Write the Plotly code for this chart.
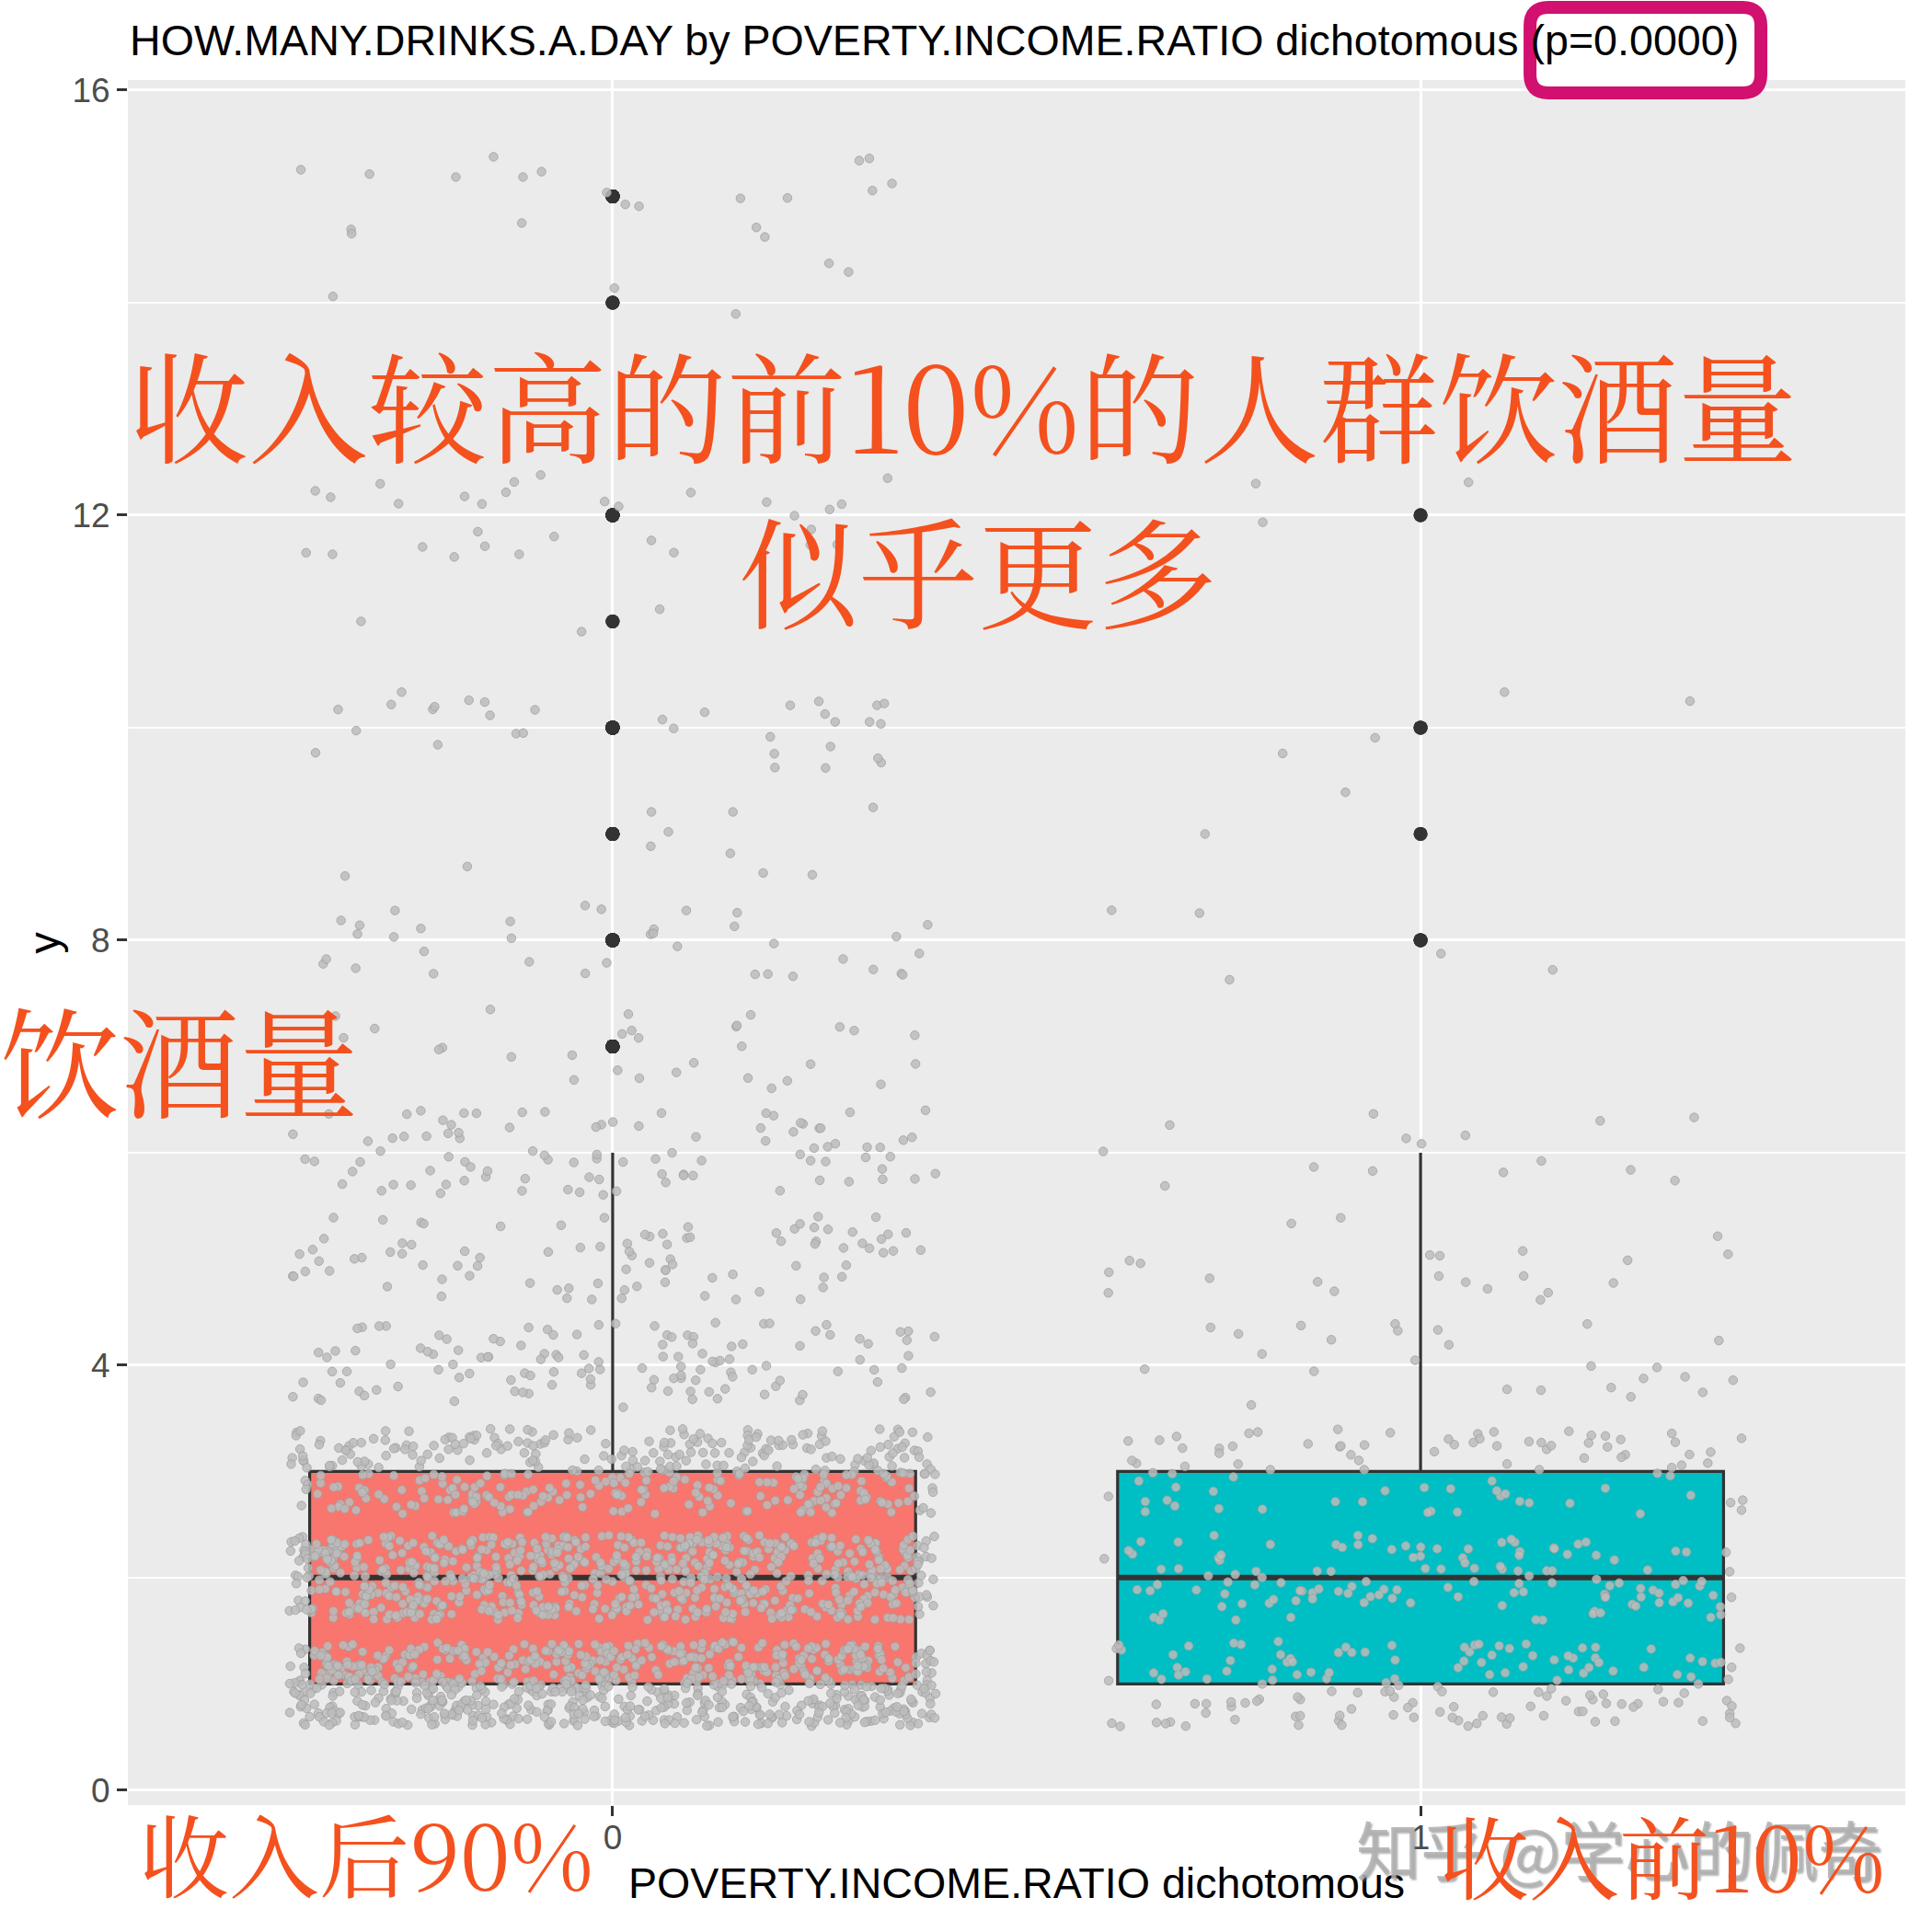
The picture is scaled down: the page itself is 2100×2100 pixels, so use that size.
import numpy as np
import plotly.graph_objects as go

# ---------------- data ----------------
groups = [0, 1]
group_labels = ["0", "1"]
drink_levels = [1, 2, 3, 4, 5, 6, 7, 8, 9, 10, 11, 12, 13, 14, 15]
counts_bottom90 = [800, 720, 400, 125, 90, 95, 30, 36, 10, 32, 3, 30, 0, 5, 20]
counts_top10 = [150, 130, 90, 25, 22, 15, 0, 5, 2, 4, 0, 3, 0, 0, 0]
box_colors = ["#F8766D", "#00BFC4"]
y_ticks = [0, 4, 8, 12, 16]

title_text = "HOW.MANY.DRINKS.A.DAY by POVERTY.INCOME.RATIO dichotomous (p=0.0000)"
x_title = "POVERTY.INCOME.RATIO dichotomous"
y_title = "y"

# ---------------- geometry helpers ----------------
W = H = 2100
L, R, T, B = 138.6, 2071.0, 87.0, 1962.0


def pxx(px):
    return (px - L) / (R - L)


def pxy(py):
    return (B - py) / (B - T)


def hash01(k, a, b):
    # deterministic scatter used only for the visual jitter offsets
    return np.mod(np.sin(k * a + b) * 43758.5453, 1.0)


fig = go.Figure()

series = [counts_bottom90, counts_top10]

# boxes (ggplot-like: no whisker caps, dark outliers)
for g, counts, color in zip(groups, series, box_colors):
    vals = np.repeat(drink_levels, counts)
    fig.add_trace(go.Box(
        x=np.full(len(vals), g), y=vals, orientation="v",
        width=0.75, fillcolor=color,
        line=dict(color="#333333", width=3.2), whiskerwidth=0,
        boxpoints="outliers", jitter=0, pointpos=0,
        marker=dict(color="#333333", size=15),
        hoverinfo="skip", showlegend=False,
    ))

# thicker median line (ggplot fatten)
for g, counts in zip(groups, series):
    vals = np.repeat(drink_levels, counts)
    med = float(np.median(vals))
    fig.add_trace(go.Scatter(
        x=[g - 0.375, g + 0.375], y=[med, med], mode="lines",
        line=dict(color="#333333", width=6),
        hoverinfo="skip", showlegend=False,
    ))

# jittered raw observations (geom_jitter style, +/-0.4 in both directions)
jx, jy = [], []
for g, counts in zip(groups, series):
    vals = np.repeat(drink_levels, counts).astype(float)
    k = np.arange(1, len(vals) + 1, dtype=float) + 5000.0 * g
    dx = (hash01(k, 12.9898, 4.1414) - 0.5) * 0.8
    dy = (hash01(k, 78.233, 1.7320) - 0.5) * 0.8
    jx.extend((g + dx).tolist())
    jy.extend((vals + dy).tolist())

fig.add_trace(go.Scatter(
    x=jx, y=jy, mode="markers",
    marker=dict(size=9.5, color="rgba(188,188,188,0.85)",
                line=dict(color="rgba(158,158,158,0.75)", width=1)),
    hoverinfo="skip", showlegend=False,
))

tick_font = dict(family="Liberation Sans, Arial, sans-serif", size=37, color="#4D4D4D")

fig.update_layout(
    width=W, height=H,
    margin=dict(l=L, r=W - R, t=T, b=H - B, pad=0),
    paper_bgcolor="white", plot_bgcolor="#EBEBEB",
    showlegend=False, boxmode="overlay",
    font=dict(family="Liberation Sans, Arial, sans-serif", color="black"),
    title=dict(text=title_text, xref="container", yref="container",
               x=141 / W, xanchor="left", y=1 - 44 / H, yanchor="middle",
               font=dict(size=46.6, color="black")),
    xaxis=dict(range=[-0.6, 1.6], tickmode="array", tickvals=groups, ticktext=group_labels,
               ticks="outside", ticklen=11, tickwidth=2.6, tickcolor="#333333",
               tickfont=tick_font, ticklabelstandoff=-8,
               showgrid=True, gridcolor="white", gridwidth=3,
               zeroline=False, showline=False, fixedrange=True),
    yaxis=dict(range=[-0.14, 16.095], tickmode="array", tickvals=y_ticks,
               ticktext=[str(t) for t in y_ticks],
               ticks="outside", ticklen=11, tickwidth=2.6, tickcolor="#333333",
               tickfont=tick_font, showgrid=True, gridcolor="white", gridwidth=3,
               minor=dict(dtick=2, tick0=0, showgrid=True, gridcolor="white", gridwidth=1.5),
               zeroline=False, showline=False, fixedrange=True),
)

# pink rounded highlight box around the p-value
x0, x1, y0, y1, r = 1663, 1914, 8, 101, 20
pts = [
    ("M", (x0 + r, y0)), ("L", (x1 - r, y0)), ("Q", (x1, y0), (x1, y0 + r)),
    ("L", (x1, y1 - r)), ("Q", (x1, y1), (x1 - r, y1)), ("L", (x0 + r, y1)),
    ("Q", (x0, y1), (x0, y1 - r)), ("L", (x0, y0 + r)), ("Q", (x0, y0), (x0 + r, y0)),
]
path = ""
for seg in pts:
    cmd = seg[0]
    coords = " ".join(f"{pxx(p[0]):.5f},{pxy(p[1]):.5f}" for p in seg[1:])
    path += f"{cmd} {coords} "
path += "Z"
fig.add_shape(type="path", path=path, xref="paper", yref="paper",
              line=dict(color="#D1106F", width=14), fillcolor="white", layer="above")

# axis titles
fig.add_annotation(text=x_title, xref="paper", yref="paper", x=pxx(1105), y=pxy(2047),
                   xanchor="center", yanchor="middle", showarrow=False,
                   font=dict(size=46.6, color="black"))
fig.add_annotation(text=y_title, xref="paper", yref="paper", x=pxx(48), y=pxy(1024),
                   xanchor="center", yanchor="middle", showarrow=False, textangle=-90,
                   font=dict(size=46.6, color="black"))

# watermark
fig.add_annotation(text="知乎 @学心的佩奇", xref="paper", yref="paper", x=pxx(1760), y=pxy(2008),
                   xanchor="center", yanchor="middle", showarrow=False,
                   font=dict(family="Noto Sans CJK SC", size=70, color="rgba(175,175,175,0.85)",
                             shadow="2px 2px 2px rgba(110,110,110,0.6)"))

# orange hand-added notes
note_font = "Noto Serif CJK SC, Liberation Serif, Noto Sans CJK SC"
orange = "#F4511E"
notes = [
    ("收入较高的前10%的人群饮酒量", 1047, 437, 130),
    ("似乎更多", 1063, 617, 130),
    ("饮酒量", 195, 1148, 130),
    ("收入后90%", 398, 2012, 98),
    ("收入前10%", 1806, 2014, 98),
]
for txt, cx, cy, sz in notes:
    fig.add_annotation(text=txt, xref="paper", yref="paper", x=pxx(cx), y=pxy(cy),
                       xanchor="center", yanchor="middle", showarrow=False,
                       font=dict(family=note_font, size=sz, color=orange))

fig.write_html("out.html", config={"displayModeBar": False},
               post_script="document.body.style.margin='0px';")
